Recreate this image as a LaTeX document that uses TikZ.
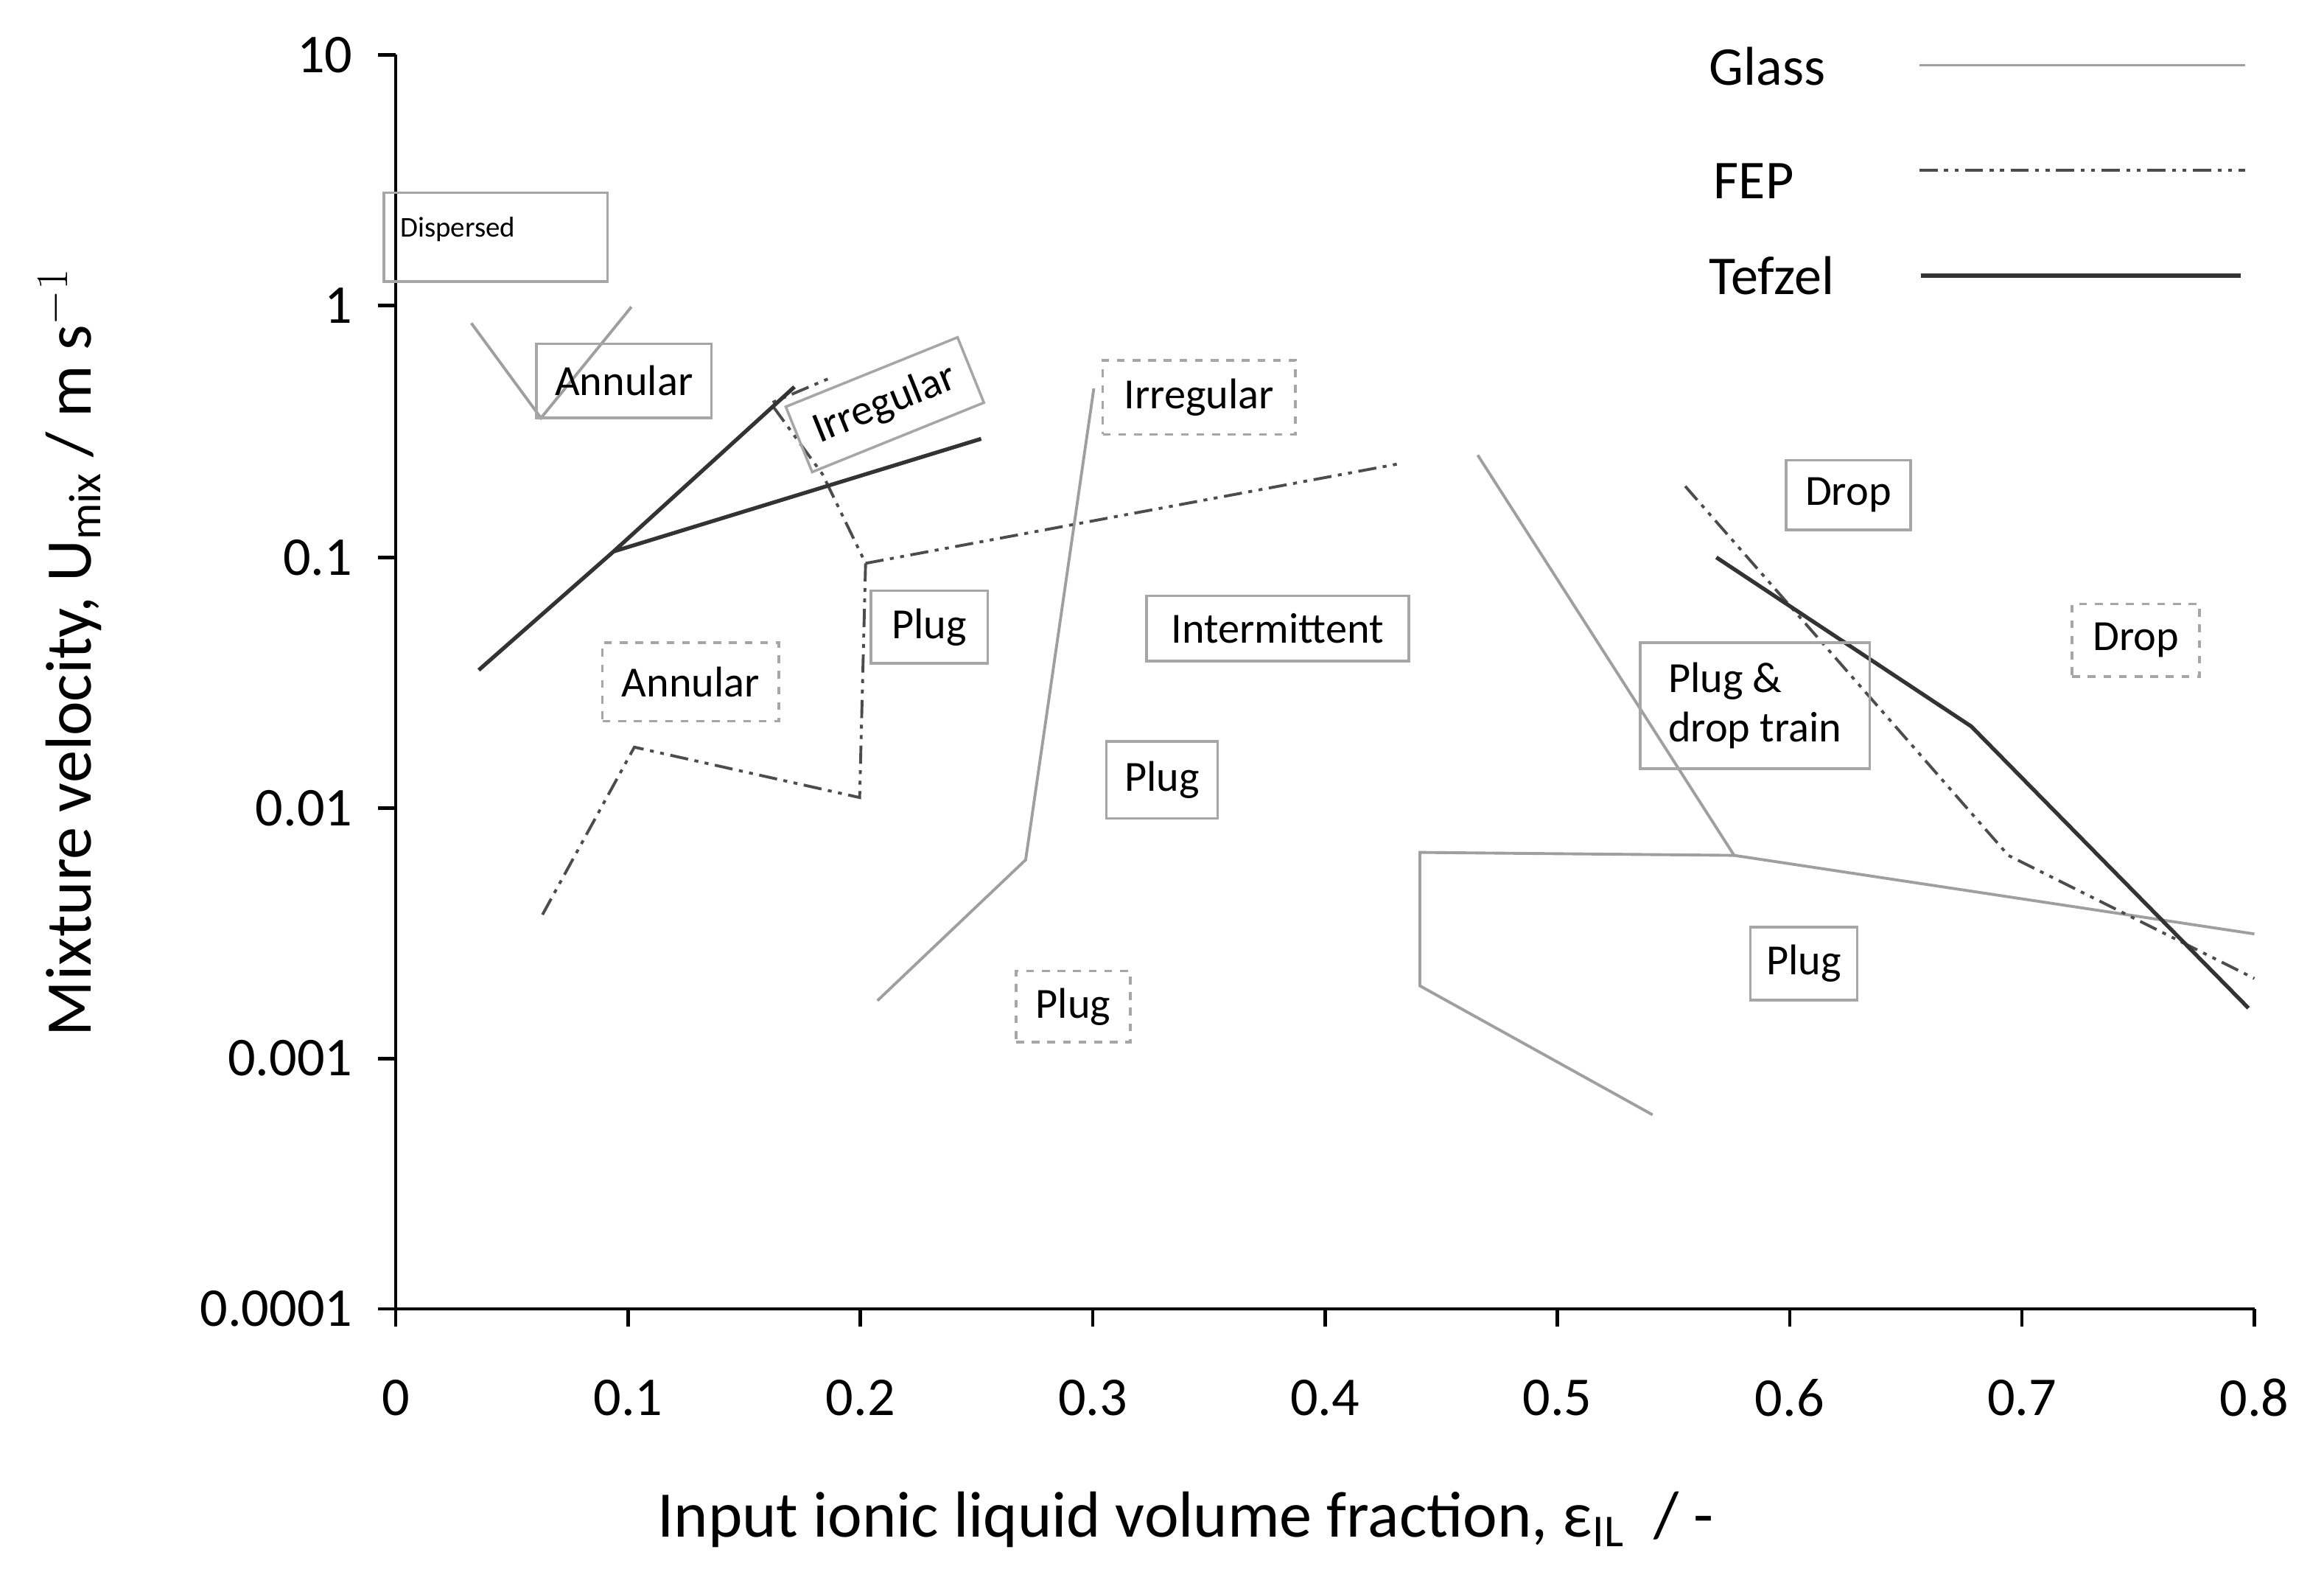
\documentclass[tikz,border=0pt]{standalone}
\usepackage{fontspec}
\setmainfont{Carlito}
\begin{document}
\begin{tikzpicture}[x=0.02cm,y=-0.02cm,
 glass/.style={draw=gray!75,line width=1.1pt},
 fep/.style={draw=black!70,line width=1.1pt,dash pattern=on 7pt off 2.5pt on 1.5pt off 2.5pt on 1.5pt off 2.5pt},
 tef/.style={draw=black!80,line width=1.5pt},
 lab/.style={draw=gray!70,line width=1pt,font=\fontsize{16.5}{19}\selectfont,inner sep=0pt},
 dlab/.style={lab,dashed},
 tick/.style={font=\fontsize{21}{24}\selectfont}]
\useasboundingbox (0,0) rectangle (1568,1060);
% axes
\draw[line width=1.3pt] (267,37) -- (267,883) -- (1521,883);
\foreach \y/\t in {37/10,206/1,376/0.1,545/0.01,714/0.001,883/0.0001}{
 \draw[line width=1.3pt] (255,\y) -- (267,\y);
 \node[tick,anchor=east] at (244,\y) {\t};}
\foreach \i in {0,...,8}{
 \pgfmathsetmacro\xx{267+156.75*\i}
 \draw[line width=1.3pt] (\xx,883) -- (\xx,895);
 \node[tick] at (\xx,943) {\ifnum\i=0 0\else 0.\i\fi};}
\node[font=\fontsize{25}{28}\selectfont] (xt) at (800,1025) {Input ionic liquid volume fraction, ε$_{\mathrm{IL}}$\ \ / -};
\node[font=\fontsize{25}{28}\selectfont,rotate=90] (yt) at (47,440) {Mixture velocity, U$_{\mathrm{mix}}$ / m s$^{-1}$};
% legend
\node[tick,anchor=west] (lg) at (1147,45) {Glass};
\node[tick,anchor=west] (lf) at (1150,122) {FEP};
\node[tick,anchor=west] (lt) at (1147,186) {Tefzel};
\draw[glass] (1295,44) -- (1515,44);
\draw[fep] (1295,115) -- (1515,115);
\draw[tef] (1296,186) -- (1512,186);
% glass lines
\draw[glass] (318,218) -- (365,282) -- (426,207);
\draw[glass] (592,675) -- (692,580) -- (738,262);
\draw[glass] (997,307) -- (1170,577) -- (1521,630);
\draw[glass] (1170,577) -- (958,575) -- (958,665) -- (1115,752);
% fep lines
\draw[fep] (366,617) -- (428,504) -- (580,538) -- (584,380) -- (555,320) -- (520,272) -- (560,255);
\draw[fep] (584,380) -- (943,313);
\draw[fep] (1137,328) -- (1355,577) -- (1521,660);
% tefzel
\draw[tef] (323,452) -- (414,372) -- (536,261);
\draw[tef] (414,372) -- (662,296);
\draw[tef] (1158,376) -- (1330,490) -- (1517,680);
% labels
\draw[gray!70,line width=1pt] (259,130) rectangle (410,190);
\node[font=\fontsize{11}{13}\selectfont,anchor=north west] (dt) at (264,140) {Dispersed};
\node[lab,minimum width=2.36cm,minimum height=1cm] (an1) at (421,257) {Annular};
\node[lab,minimum width=2.5cm,minimum height=0.95cm,rotate=22] (ir1) at (597,273) {Irregular};
\node[dlab,minimum width=2.6cm,minimum height=1cm] (ir2) at (809,268) {Irregular};
\node[lab,minimum width=1.68cm,minimum height=0.94cm] (dr1) at (1247,334) {Drop};
\node[lab,minimum width=1.58cm,minimum height=0.98cm] (pl1) at (627,423) {Plug};
\node[lab,minimum width=3.54cm,minimum height=0.88cm] (int) at (862,424) {Intermittent};
\node[dlab,minimum width=2.38cm,minimum height=1.06cm] (an2) at (466,460) {Annular};
\node[dlab,minimum width=1.72cm,minimum height=0.98cm] (dr2) at (1441,432) {Drop};
\node[lab,minimum width=3.1cm,minimum height=1.7cm,align=left] (pd) at (1184,476) {Plug \&\\drop train};
\node[lab,minimum width=1.5cm,minimum height=1.04cm] (pl2) at (784,526) {Plug};
\node[lab,minimum width=1.44cm,minimum height=0.98cm] (pl3) at (1217,650) {Plug};
\node[dlab,minimum width=1.54cm,minimum height=0.96cm] (pl4) at (724,679) {Plug};
\end{tikzpicture}
\end{document}
